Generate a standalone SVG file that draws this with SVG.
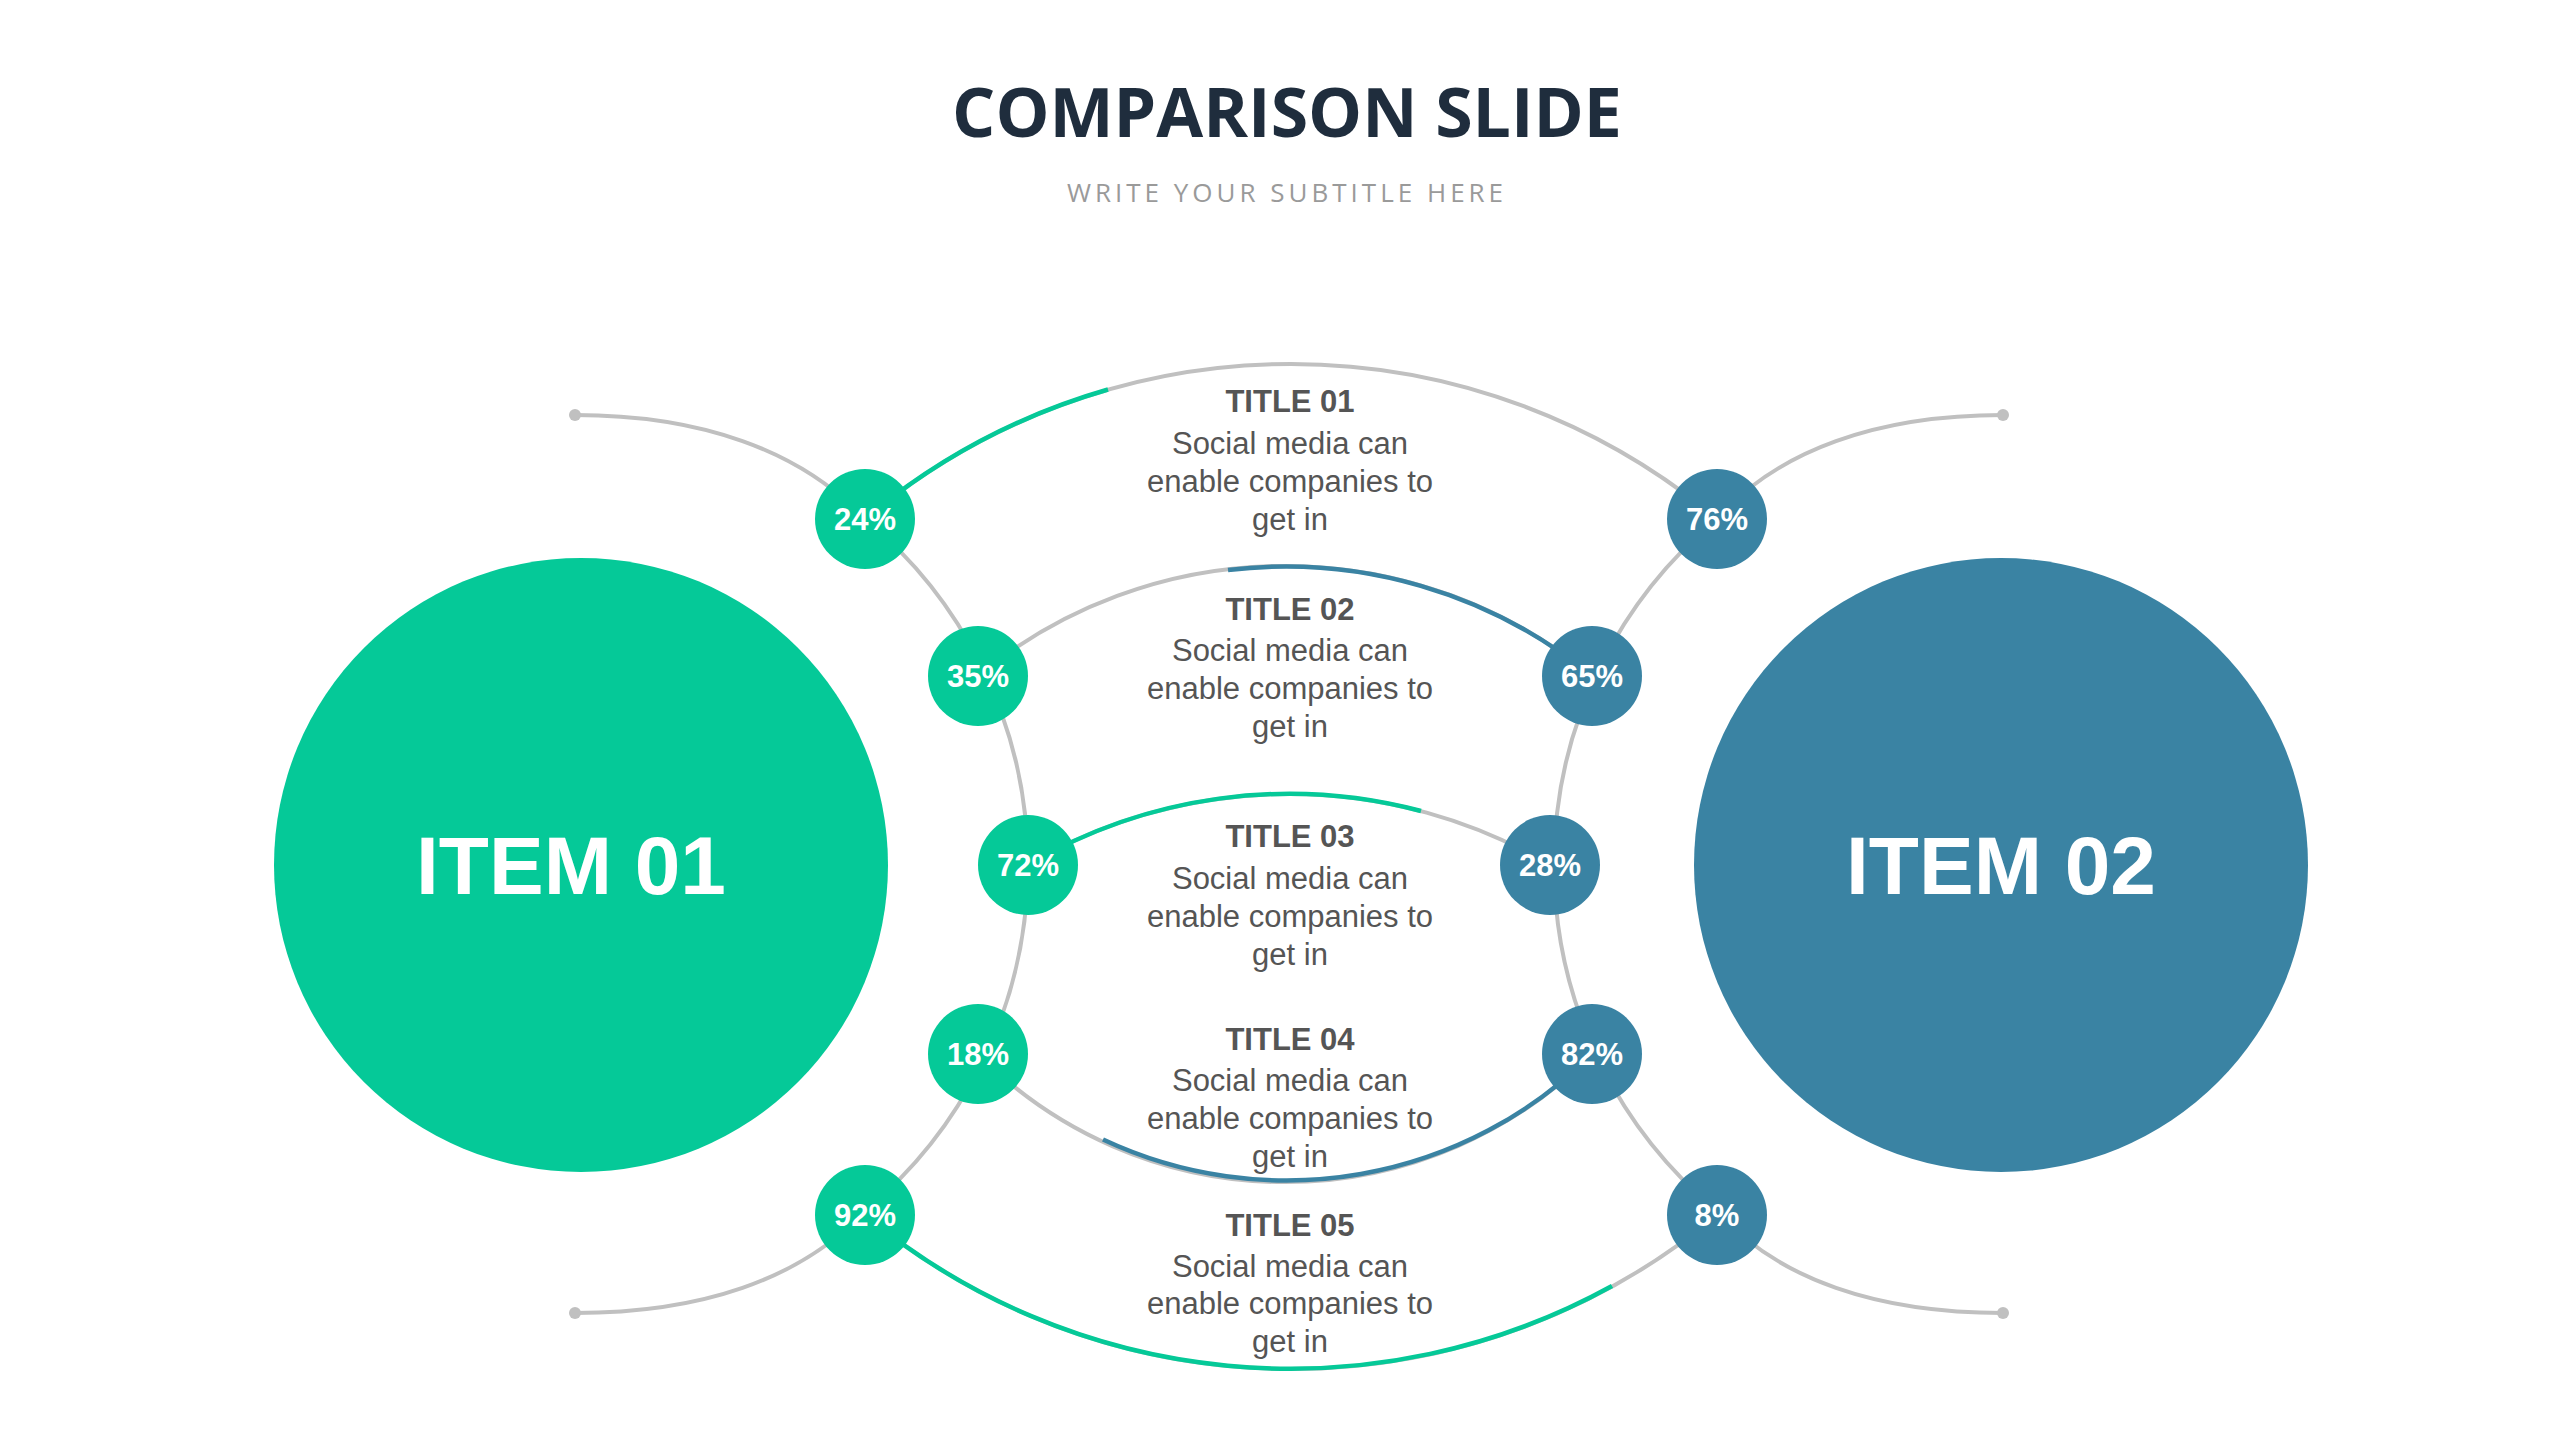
<svg xmlns="http://www.w3.org/2000/svg" width="2559" height="1440" viewBox="0 0 2559 1440">
<style>
.g{fill:none;stroke:#C0C0C0;stroke-width:4}
.cg{fill:none;stroke:#05C998;stroke-width:4.5}
.cb{fill:none;stroke:#3A83A3;stroke-width:4.5}
.pg{fill:#05C998}.pb{fill:#3A83A3}
.pct{font-family:"Liberation Sans",Arial,sans-serif;font-weight:bold;font-size:31px;fill:#fff;text-anchor:middle;dominant-baseline:central}
.big{font-family:"Liberation Sans",Arial,sans-serif;font-weight:bold;font-size:82px;fill:#fff;text-anchor:middle;dominant-baseline:central}
.tt{font-family:"Liberation Sans",Arial,sans-serif;font-weight:bold;font-size:31px;fill:#555;text-anchor:middle;dominant-baseline:central}
.tx{font-family:"Liberation Sans",Arial,sans-serif;font-size:31px;fill:#555;text-anchor:middle;dominant-baseline:central}
.dot{fill:#C0C0C0}
</style>
<rect width="2559" height="1440" fill="#fff"/>
<text x="1287" y="110" font-family="'Open Sans','Liberation Sans',sans-serif" font-weight="bold" font-size="68" fill="#1F2D3D" text-anchor="middle" dominant-baseline="central">COMPARISON SLIDE</text>
<text x="1287" y="192" font-family="'Open Sans','Liberation Sans',sans-serif" font-size="26" letter-spacing="4" fill="#9A9A9A" text-anchor="middle" dominant-baseline="central">WRITE YOUR SUBTITLE HERE</text>
<g id="connectors">
<path class="g" d="M575,415 C700,415 800,450 865,519 A449,449 0 0 1 865,1211 C800,1280 700,1313 575,1313"/>
<path class="g" d="M2003,415 C1878,415 1778,450 1717,519 A449,449 0 0 0 1717,1211 C1778,1280 1878,1313 2003,1313"/>
<circle class="dot" cx="575" cy="415" r="6"/><circle class="dot" cx="575" cy="1313" r="6"/>
<circle class="dot" cx="2003" cy="415" r="6"/><circle class="dot" cx="2003" cy="1313" r="6"/>
<path class="g" d="M865,519 A663,663 0 0 1 1717,519"/>
<path class="cg" d="M865,519 A663,663 0 0 1 1108,389.5"/>
<path class="g" d="M978,676 A483,483 0 0 1 1592,676"/>
<path class="cb" d="M1228,570 A483,483 0 0 1 1592,676"/>
<path class="g" d="M1028,865 A515,515 0 0 1 1550,865"/>
<path class="cg" d="M1028,865 A515,515 0 0 1 1421,811"/>
<path class="g" d="M978,1054 A432,432 0 0 0 1592,1054"/>
<path class="cb" d="M1103,1139.5 A432,432 0 0 0 1592,1054"/>
<path class="g" d="M865,1215 A666,666 0 0 0 1717,1215"/>
<path class="cg" d="M865,1215 A666,666 0 0 0 1612,1286"/>
</g>
<g id="item01"><circle class="pg" cx="581" cy="865" r="307"/><text class="big" x="571" y="865">ITEM 01</text></g>
<g id="item02"><circle class="pb" cx="2001" cy="865" r="307"/><text class="big" x="2001" y="865">ITEM 02</text></g>
<g id="p24"><circle class="pg" cx="865" cy="519" r="50"/><text class="pct" x="865" y="519">24%</text></g>
<g id="p35"><circle class="pg" cx="978" cy="676" r="50"/><text class="pct" x="978" y="676">35%</text></g>
<g id="p72"><circle class="pg" cx="1028" cy="865" r="50"/><text class="pct" x="1028" y="865">72%</text></g>
<g id="p18"><circle class="pg" cx="978" cy="1054" r="50"/><text class="pct" x="978" y="1054">18%</text></g>
<g id="p92"><circle class="pg" cx="865" cy="1215" r="50"/><text class="pct" x="865" y="1215">92%</text></g>
<g id="p76"><circle class="pb" cx="1717" cy="519" r="50"/><text class="pct" x="1717" y="519">76%</text></g>
<g id="p65"><circle class="pb" cx="1592" cy="676" r="50"/><text class="pct" x="1592" y="676">65%</text></g>
<g id="p28"><circle class="pb" cx="1550" cy="865" r="50"/><text class="pct" x="1550" y="865">28%</text></g>
<g id="p82"><circle class="pb" cx="1592" cy="1054" r="50"/><text class="pct" x="1592" y="1054">82%</text></g>
<g id="p8"><circle class="pb" cx="1717" cy="1215" r="50"/><text class="pct" x="1717" y="1215">8%</text></g>
<g id="t1"><text class="tt" x="1290" y="401">TITLE 01</text><text class="tx" x="1290" y="443">Social media can</text><text class="tx" x="1290" y="481">enable companies to</text><text class="tx" x="1290" y="519">get in</text></g>
<g id="t2"><text class="tt" x="1290" y="609">TITLE 02</text><text class="tx" x="1290" y="650">Social media can</text><text class="tx" x="1290" y="688">enable companies to</text><text class="tx" x="1290" y="726">get in</text></g>
<g id="t3"><text class="tt" x="1290" y="836">TITLE 03</text><text class="tx" x="1290" y="878">Social media can</text><text class="tx" x="1290" y="916">enable companies to</text><text class="tx" x="1290" y="954">get in</text></g>
<g id="t4"><text class="tt" x="1290" y="1039">TITLE 04</text><text class="tx" x="1290" y="1080">Social media can</text><text class="tx" x="1290" y="1118">enable companies to</text><text class="tx" x="1290" y="1156">get in</text></g>
<g id="t5"><text class="tt" x="1290" y="1225">TITLE 05</text><text class="tx" x="1290" y="1266">Social media can</text><text class="tx" x="1290" y="1303">enable companies to</text><text class="tx" x="1290" y="1341">get in</text></g>
</svg>
